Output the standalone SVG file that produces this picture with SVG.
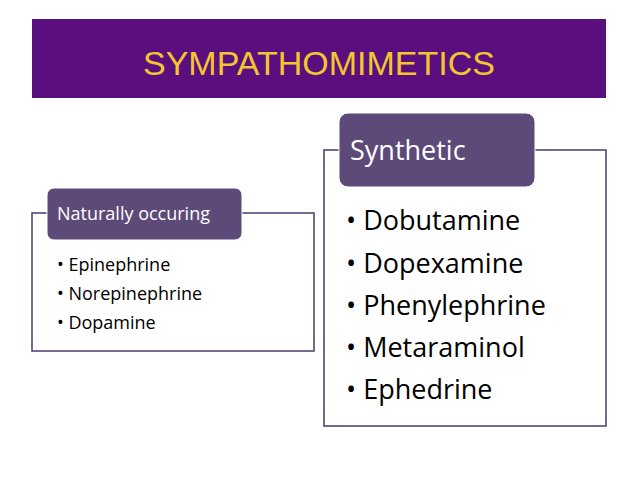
<svg xmlns="http://www.w3.org/2000/svg" width="638" height="478" viewBox="0 0 638 478">
<style>
.frame{fill:#fff;stroke:#4B3A6B;stroke-width:1.5}
.lbl{fill:#5E4A78;stroke:#fff;stroke-width:1}
.lt{fill:#fff;font-family:"Open Sans","Liberation Sans",sans-serif}
.b{fill:#000;font-family:"Open Sans","Liberation Sans",sans-serif}
</style>
<rect width="638" height="478" fill="#fff"/>
<g id="title">
<rect x="32" y="19" width="574" height="79" fill="#5B0F7E"/>
<text x="319" y="75" text-anchor="middle" font-family="Liberation Sans,Arial,sans-serif" font-size="34" fill="#F2C62F">SYMPATHOMIMETICS</text>
</g>
<g id="natural">
<rect class="frame" x="32" y="213" width="282" height="138"/>
<rect class="lbl" x="47" y="188" width="195" height="52" rx="7"/>
<text class="lt" x="57" y="220" font-size="18">Naturally occuring</text>
<g class="b" font-size="18">
<text x="57" y="271">• Epinephrine</text>
<text x="57" y="300">• Norepinephrine</text>
<text x="57" y="329">• Dopamine</text>
</g>
</g>
<g id="synthetic">
<rect class="frame" x="324" y="150" width="282" height="276"/>
<rect class="lbl" x="339" y="113" width="196" height="74" rx="9"/>
<text class="lt" x="350" y="160" font-size="27">Synthetic</text>
<g class="b" font-size="27">
<text x="346" y="230">• Dobutamine</text>
<text x="346" y="273">• Dopexamine</text>
<text x="346" y="315">• Phenylephrine</text>
<text x="346" y="357">• Metaraminol</text>
<text x="346" y="399">• Ephedrine</text>
</g>
</g>
</svg>
